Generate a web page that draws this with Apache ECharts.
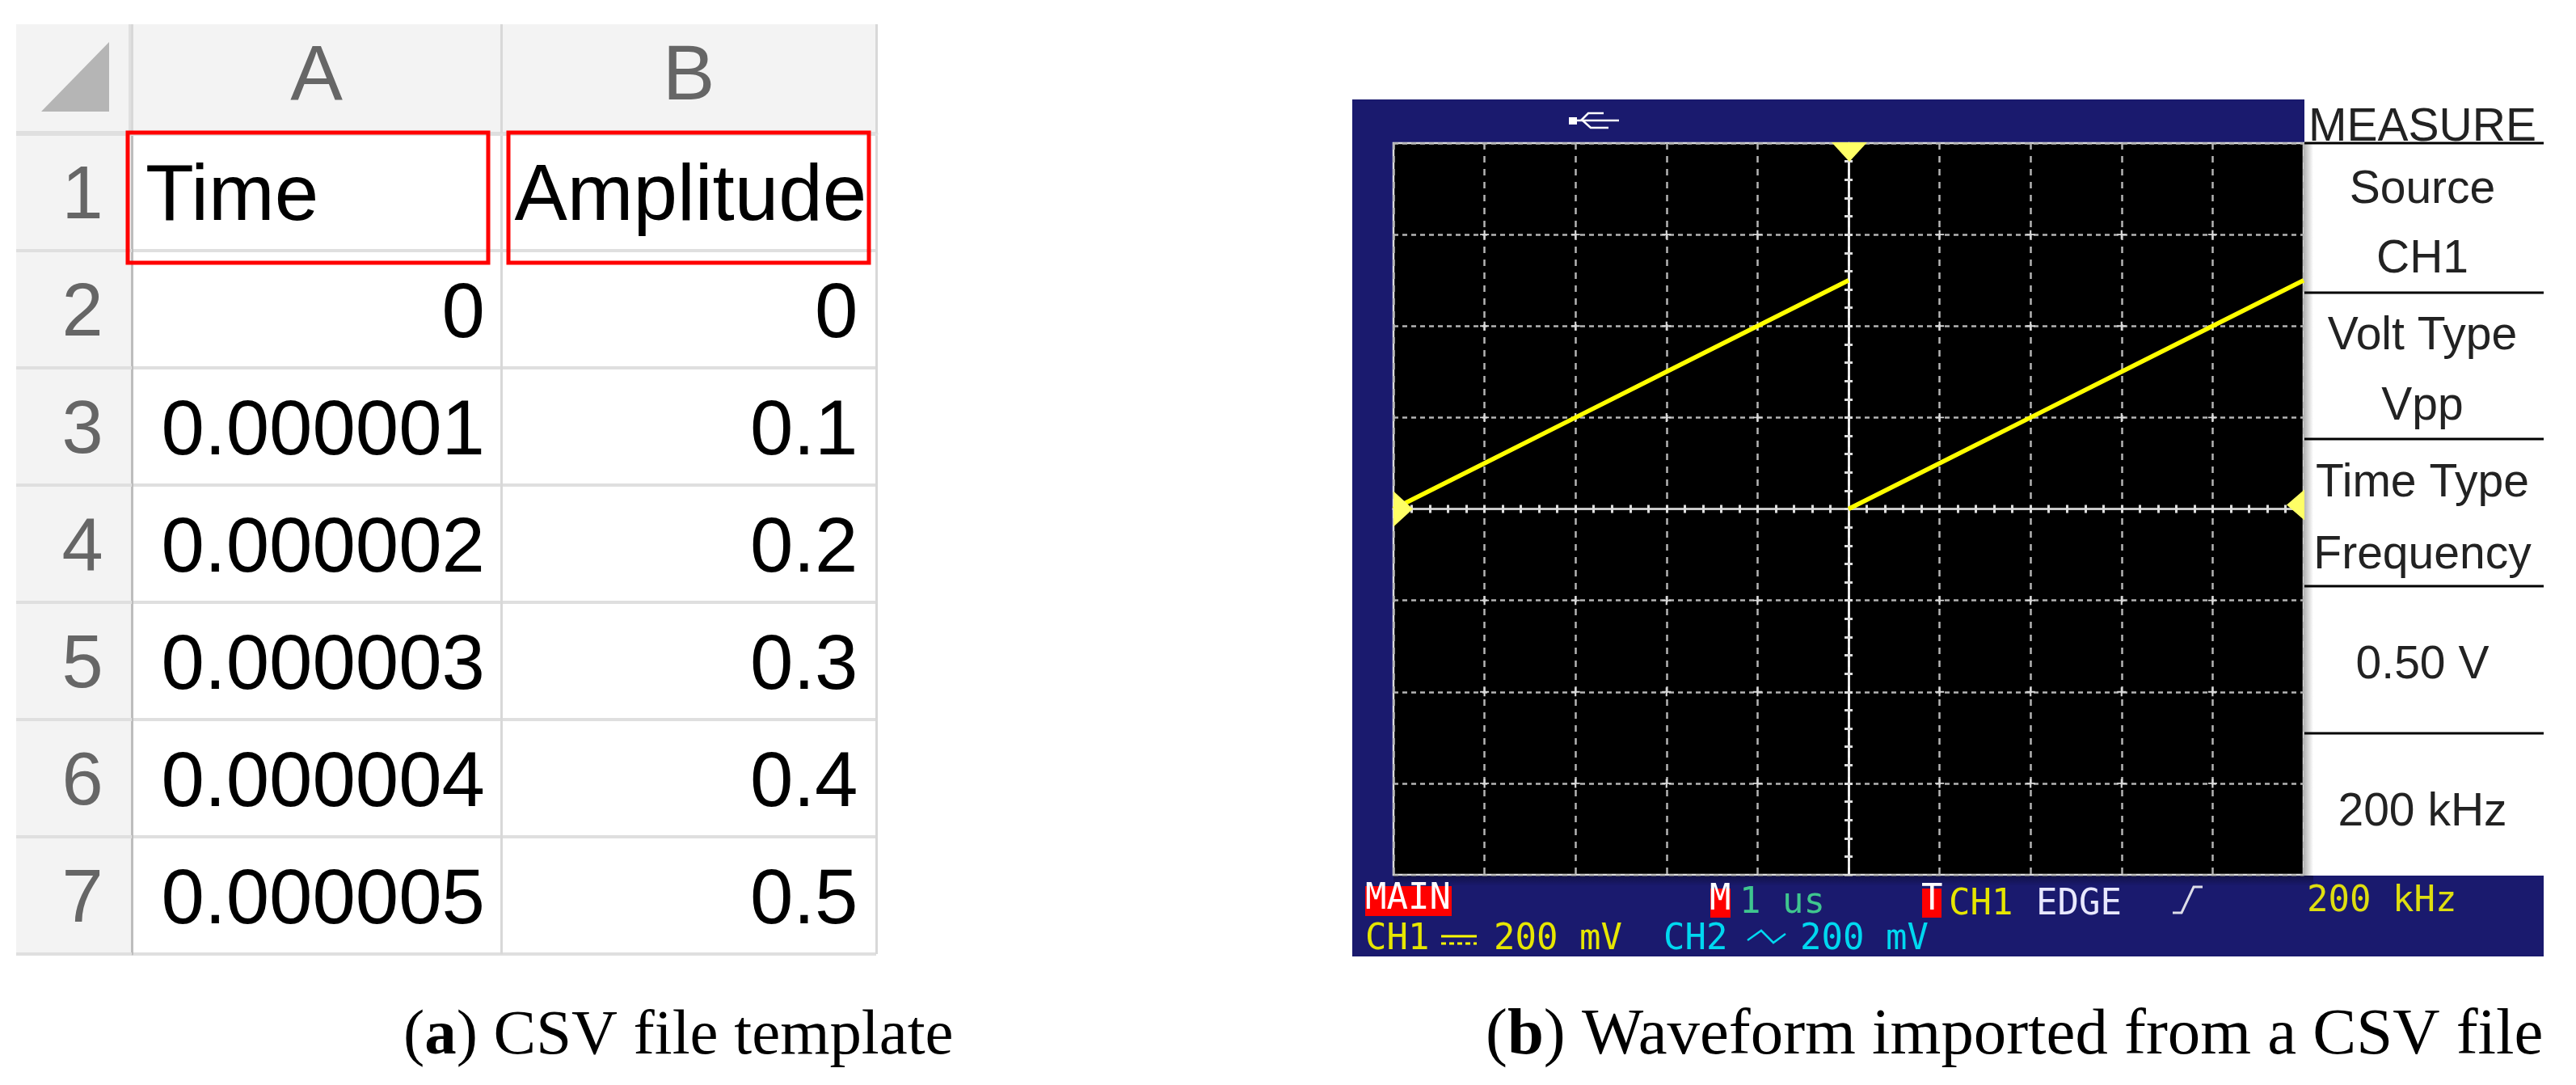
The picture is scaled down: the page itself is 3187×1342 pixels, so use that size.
<!DOCTYPE html>
<html>
<head>
<meta charset="utf-8">
<style>html,body{margin:0;padding:0;background:#fff}#c{width:3187px;height:1342px}</style>
<script src="https://cdn.jsdelivr.net/npm/echarts@6/dist/echarts.min.js"></script>
</head>
<body>
<div id="c"></div>
<script>
// ---- data ----
const rowNumbers = ['1','2','3','4','5','6','7'];
const columnNames = ['A','B'];
const timeColumn = ['Time','0','0.000001','0.000002','0.000003','0.000004','0.000005'];
const amplitudeColumn = ['Amplitude','0','0.1','0.2','0.3','0.4','0.5'];
const sweepTimeUs = [-5,-4,-3,-2,-1,0,'-',0,1,2,3,4,5];
const sweepMilliVolts = [0,100,200,300,400,500,'-',0,100,200,300,400,500];
const measureLabels = ['MEASURE','Source','CH1','Volt Type','Vpp','Time Type','Frequency','0.50 V','200 kHz'];
const statusLabels = ['MAIN','M','1 us','T','CH1','EDGE','200 kHz','CH1','200 mV','CH2','200 mV'];
const captions = ['CSV file template','Waveform imported from a CSV file'];

// ---- layout ----
const NAVY = '#1a1a6e', MONO = '"DejaVu Sans Mono"', SANS = '"Liberation Sans"', SERIF = '"Liberation Serif"';
const G = [];
function rect(x0,y0,x1,y1,fill,z,extra){G.push(Object.assign({type:'rect',silent:true,z:z,shape:{x:x0,y:y0,width:x1-x0,height:y1-y0},style:{fill:fill}},extra||{}));}
function poly(points,color,width,z,dash){G.push({type:'polyline',silent:true,z:z,shape:{points:points},style:{stroke:color,lineWidth:width,fill:null,lineDash:dash||null}});}
function txt(s,x,base,size,color,font,align,weight){G.push({type:'text',silent:true,z:20,x:x,y:base-0.346*size,style:{text:s,fill:color,font:(weight||'normal')+' '+size+'px '+font,align:align||'left',verticalAlign:'middle'}});}

// spreadsheet chrome
rect(20,30,1084,165,'#f3f3f3',-5);
rect(20,165,163,1180,'#f3f3f3',-5);
G.push({type:'polygon',silent:true,z:-4,shape:{points:[[51,138],[135,138],[135,52]]},style:{fill:'#b5b5b5'}});
rect(20,162,163,168,'#dfdfdf',-3);
rect(159,30,164,165,'#e0e0e0',-3);
// red header boxes
G.push({type:'rect',silent:true,z:30,shape:{x:158,y:164,width:446,height:161},style:{fill:null,stroke:'#ff0000',lineWidth:5}});
G.push({type:'rect',silent:true,z:30,shape:{x:629,y:164,width:446,height:161},style:{fill:null,stroke:'#ff0000',lineWidth:5}});

// oscilloscope frame
rect(1673,123,2851,1083,NAVY,-5);
rect(1673,1083,3147,1183,NAVY,-5);
rect(1724,1083,2862,1096,{type:'linear',x:0,y:0,x2:0,y2:1,colorStops:[{offset:0,color:'rgba(0,0,0,0.35)'},{offset:1,color:'rgba(0,0,0,0)'}]},5);
rect(2850,177,2862,1083,{type:'linear',x:0,y:0,x2:1,y2:0,colorStops:[{offset:0,color:'#b0b0b0'},{offset:1,color:'#ffffff'}]},5);
// usb glyph
rect(1941,145,1951,154,'#fff',6);
poly([[1951,149],[2003,149]],'#fff',2.5,6);
poly([[1956,149],[1965,140],[1984,140]],'#fff',2.5,6);
poly([[1958,149],[1968,158],[1990,158]],'#fff',2.5,6);

// measure menu
[177,362,543,725,907].forEach(y=>poly([[2851,y],[3147,y]],'#000',3,6));
const measureBase = [178,255,341,436,523,618,707,843,1025];
measureLabels.forEach((s,i)=>txt(s,2997,measureBase[i],57,'#222',SANS,'center'));

// status bar
rect(1689,1096,1796,1133,'#ff0000',6);
rect(2116,1099,2141,1135,'#ff0000',6);
rect(2378,1099,2402,1135,'#ff0000',6);
const statusX = [1689,2115,2152,2377,2411,2519,2854,1689,1848,2058,2227];
const statusBase = [1128,1129,1133,1129,1135,1135,1131,1178,1178,1178,1178];
const statusColor = ['#fff','#fff','#3fc68f','#fff','#e6e600','#e8e8ff','#dede10','#e6e600','#e6e600','#00d8f0','#00d8f0'];
statusLabels.forEach((s,i)=>txt(s,statusX[i],statusBase[i],44,statusColor[i],MONO,'left'));
poly([[1783,1158],[1827,1158]],'#ffff00',3,6);
poly([[1783,1167],[1827,1167]],'#ffff00',3,6,[6,4]);
poly([[2162,1163],[2179,1151],[2194,1166],[2209,1155]],'#00d8f0',2.5,6);
poly([[2688,1129],[2699,1129],[2714,1097],[2725,1097]],'#dddde8',3,6);

// captions
[[499,captions[0],'a',78.8],[1838,captions[1],'b',80.8]].forEach(c=>{
  const sz = c[3];
  const rich = {b:{font:'bold '+sz+'px '+SERIF,fill:'#000'},r:{font:'normal '+sz+'px '+SERIF,fill:'#000'}};
  G.push({type:'text',silent:true,z:20,x:c[0],y:1309-0.338*sz,style:{text:'{r|(}{b|'+c[2]+'}{r|) '+c[1]+'}',rich:rich,align:'left',verticalAlign:'middle'}});
});

// cell labels through the sheet's category axes
const hidden = {color:'rgba(0,0,0,0)',opacity:1};
const cell = (col,xoff,rows,grid)=>({
  type:'scatter',xAxisIndex:grid,yAxisIndex:grid,symbolSize:1,silent:true,clip:false,itemStyle:hidden,
  data:rows.map((s,i)=>({value:[columnNames[col],rowNumbers[i]],name:s,
    label:{show:true,formatter:p=>p.name,color:'#000',fontFamily:SANS,fontSize:i===0?98:96,verticalAlign:'middle',
           position:i===0?[xoff[0],8]:[xoff[1],9],align:i===0?'left':'right'}}))
});
const rowNumberSeries = {
  type:'scatter',xAxisIndex:0,yAxisIndex:0,symbolSize:1,silent:true,clip:false,itemStyle:hidden,
  data:rowNumbers.map(s=>({value:[columnNames[0],s],name:s,
    label:{show:true,formatter:p=>p.name,color:'#666',fontFamily:SANS,fontSize:92,verticalAlign:'middle',position:[-289,8],align:'center'}}))
};
const sheetAxisX = (i,name)=>({gridIndex:i,type:'category',position:'top',data:[name],boundaryGap:true,
  axisLine:{lineStyle:{color:'#dfdfdf',width:5}},
  axisTick:{show:true,length:135,lineStyle:{color:'#d8d8d8',width:3}},
  axisLabel:{color:'#666',fontFamily:SANS,fontSize:97,margin:20},
  splitLine:{show:true,lineStyle:{color:'#d8d8d8',width:3}}});
const sheetAxisY = (i)=>({gridIndex:i,type:'category',inverse:true,data:rowNumbers,boundaryGap:true,
  axisLine:{show:i===0,lineStyle:{color:'#bdbdbd',width:3}},
  axisTick:{show:i===0,length:143,lineStyle:{color:'#dfdfdf',width:4}},
  axisLabel:{show:false},
  splitLine:{show:true,lineStyle:{color:'#dfdfdf',width:4}}});

const scopeX = (pos,primary)=>({gridIndex:2,type:'value',min:-5,max:5,interval:1,position:pos,
  axisLine:{show:true,onZero:true,lineStyle:{color:'#c8c8c8',width:3}},
  axisTick:{show:true,length:5,lineStyle:{color:'#ddd',width:3}},
  minorTick:{show:true,splitNumber:5,length:5,lineStyle:{color:'#ddd',width:3}},
  axisLabel:{show:false},
  splitLine:{show:primary,lineStyle:{color:'#b4b4b4',width:2.5,type:[8,8]}}});
const scopeY = (pos,primary)=>({gridIndex:2,type:'value',min:-800,max:800,interval:200,position:pos,
  axisLine:{show:true,onZero:true,lineStyle:{color:'#f0f0f0',width:2.5}},
  axisTick:{show:true,length:5,lineStyle:{color:'#ddd',width:3}},
  minorTick:{show:true,splitNumber:5,length:5,lineStyle:{color:'#ddd',width:3}},
  axisLabel:{show:false},
  splitLine:{show:primary,lineStyle:{color:'#b4b4b4',width:2.5,type:[6,5]}}});

// small crosses where the graticule lines meet
const crossT = [-4,-3,-2,-1,1,2,3,4], crossV = [-600,-400,-200,200,400,600];
const crossData = [];
crossT.forEach(t=>crossV.forEach(v=>crossData.push([t,v])));

const option = {
  animation:false,
  backgroundColor:'#fff',
  graphic:{elements:G},
  grid:[
    {left:163,top:165,width:457,height:1015,containLabel:false},
    {left:620,top:165,width:464,height:1015,containLabel:false},
    {left:1724,top:177,width:1126,height:905,show:true,backgroundColor:'#000',borderColor:'#dcdcdc',borderWidth:2.5}
  ],
  xAxis:[sheetAxisX(0,'A'),sheetAxisX(1,'B'),scopeX('bottom',true),scopeX('top',false)],
  yAxis:[sheetAxisY(0),sheetAxisY(1),scopeY('left',true),scopeY('right',false)],
  series:[
    cell(0,[-211,209],timeColumn,0),
    cell(1,[-215,210],amplitudeColumn,1),
    rowNumberSeries,
    {type:'scatter',xAxisIndex:2,yAxisIndex:2,silent:true,z:3,symbol:'path://M0 5H4V0H6V5H10V7H6V12H4V7H0Z',symbolSize:11,itemStyle:{color:'#d8d8d8',opacity:1},data:crossData},
    {type:'line',xAxisIndex:2,yAxisIndex:2,silent:true,z:5,showSymbol:false,connectNulls:false,
     lineStyle:{color:'#ffff00',width:5.5},itemStyle:{color:'#ffff00'},
     data:sweepTimeUs.map((t,i)=>[t,sweepMilliVolts[i]])},
    {type:'scatter',xAxisIndex:2,yAxisIndex:2,silent:true,clip:false,z:8,itemStyle:{color:'#ffff66',opacity:1},
     data:[
       {value:[0,800],symbol:'triangle',symbolSize:[44,24],symbolRotate:180,symbolOffset:[1,11]},
       {value:[-5,0],symbol:'triangle',symbolSize:[44,24],symbolRotate:-90,symbolOffset:[12,0]},
       {value:[5,0],symbol:'triangle',symbolSize:[38,22],symbolRotate:90,symbolOffset:[-10,-5]}
     ]}
  ]
};
const chart = echarts.init(document.getElementById('c'),null,{renderer:'canvas'});
chart.setOption(option);
</script>
</body>
</html>
